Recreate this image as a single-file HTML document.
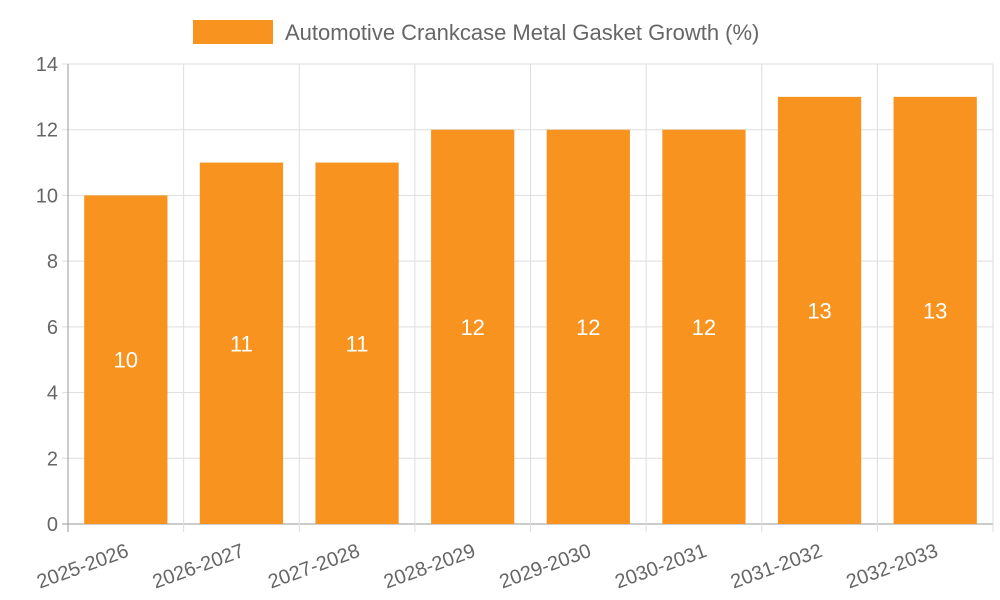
<!DOCTYPE html>
<html><head><meta charset="utf-8"><style>
body{margin:0;background:#fff;}
svg{display:block;font-family:"Liberation Sans",sans-serif;}
</style></head><body>
<svg id="chart" width="1000" height="600" viewBox="0 0 1000 600">
<g>
<rect x="193" y="20" width="80" height="24" fill="#F7931E"/>
<text x="285" y="40" font-size="22" fill="#666">Automotive Crankcase Metal Gasket Growth (%)</text>
</g>
<g id="grid"></g>
<g id="bars"></g>
<g id="axes"></g>
</svg>
<script>
const categories=["2025-2026","2026-2027","2027-2028","2028-2029","2029-2030","2030-2031","2031-2032","2032-2033"];
const values=[10,11,11,12,12,12,13,13];
const yTicks=[0,2,4,6,8,10,12,14];
const NS="http://www.w3.org/2000/svg";
const L=68,R=993,T=64,B=524,yMax=14;
const bw=(R-L)/categories.length;
const y=v=>B-(v/yMax)*(B-T);
const x=i=>L+i*bw;
function mk(tag,attrs,parent,text){const e=document.createElementNS(NS,tag);for(const k in attrs)e.setAttribute(k,attrs[k]);if(text!==undefined)e.textContent=text;parent.appendChild(e);return e;}
const grid=document.getElementById('grid'),bars=document.getElementById('bars'),axes=document.getElementById('axes');
yTicks.forEach(t=>{
 const l=mk('line',{x1:L-6,x2:R,y1:y(t),y2:y(t),stroke:t===0?'#999':'#ddd','stroke-width':1},grid);
 
 
 const tx=mk('text',{x:L-10,y:y(t)+7,'text-anchor':'end','font-size':20,fill:'#666'},axes,t);
 
 
});
for(let i=0;i<=categories.length;i++){
 const l=mk('line',{x1:x(i),x2:x(i),y1:T,y2:B+8,stroke:i===0?'#999':'#ddd','stroke-width':1},grid);
 
 
}
categories.forEach((c,i)=>{
 const v=values[i];const w=bw*0.72;const cx=x(i)+bw/2;
 const r=mk('rect',{x:cx-w/2,y:y(v),width:w,height:B-y(v),fill:'#F7931E'},bars);
 
 
 const vt=mk('text',{x:cx,y:(y(v)+B)/2+8,'text-anchor':'middle','font-size':22,fill:'#fff'},bars,v);
 
 
 const lt=mk('text',{x:cx+4,y:B+32,'text-anchor':'end','font-size':20,fill:'#666',transform:`rotate(-20 ${cx+4} ${B+32})`},axes,c);
 
 
});
</script>
</body></html>
